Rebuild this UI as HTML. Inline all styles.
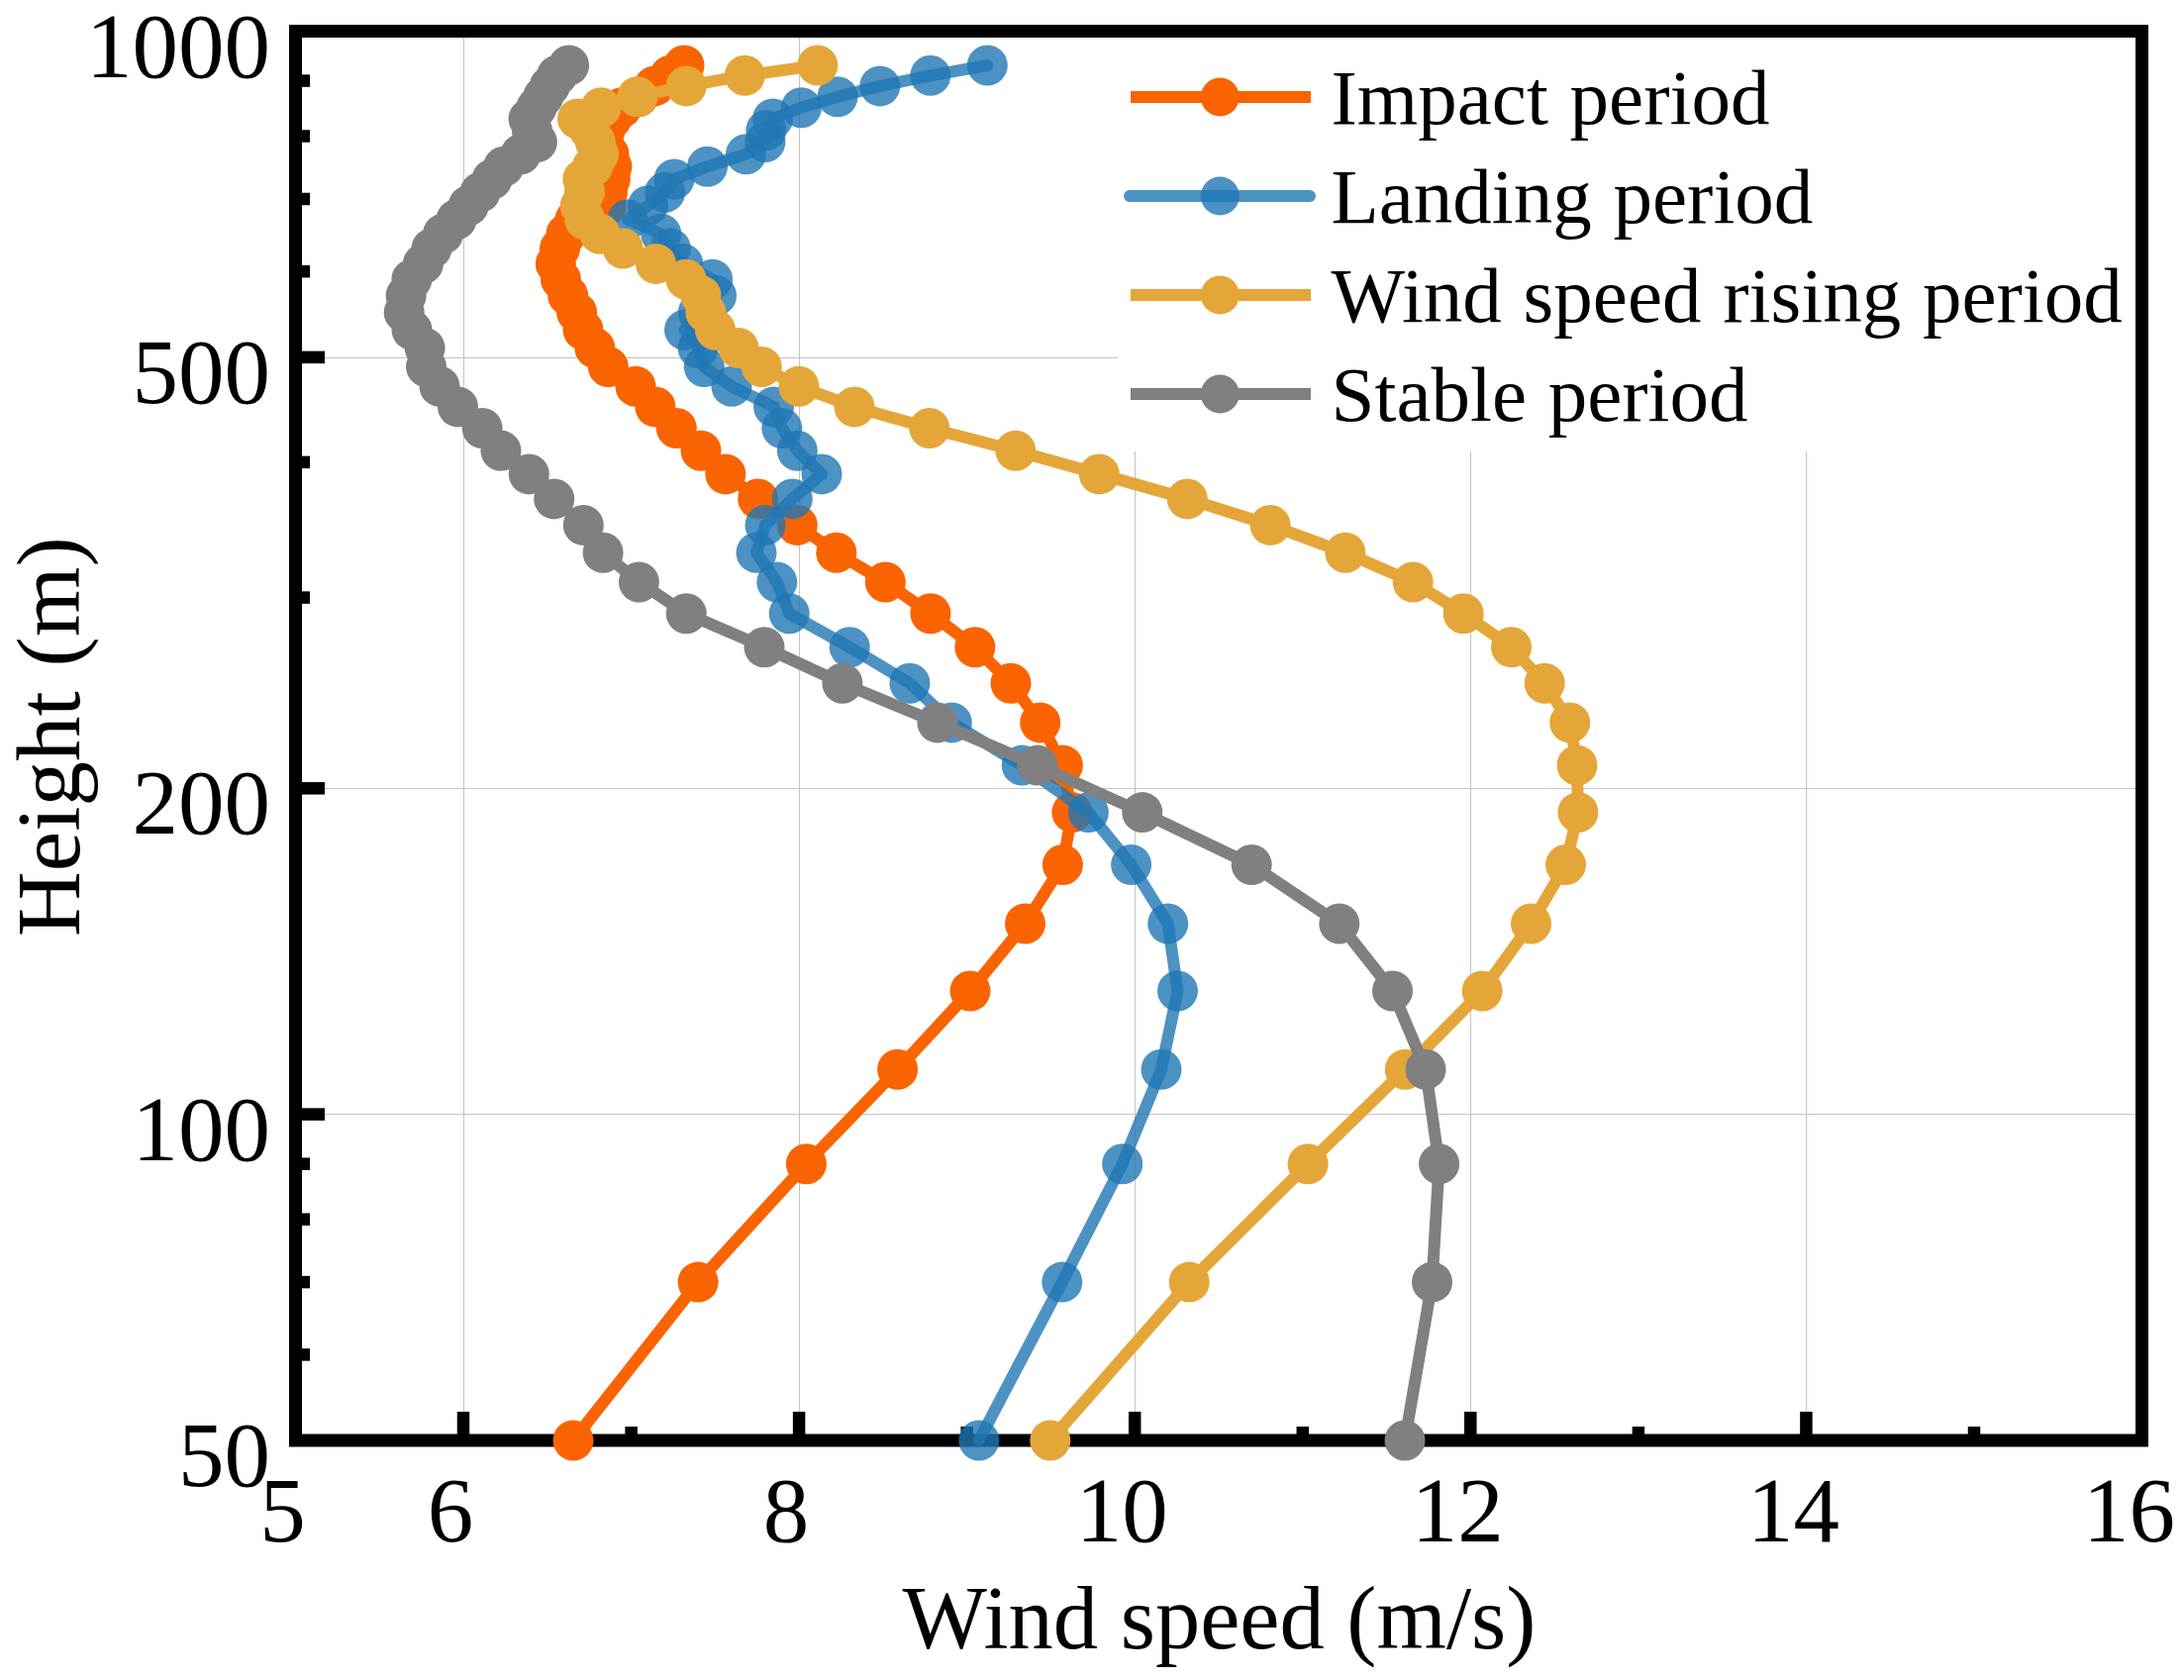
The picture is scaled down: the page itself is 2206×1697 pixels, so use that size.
<!DOCTYPE html>
<html lang="en"><head><meta charset="utf-8"><title>Wind speed profiles</title>
<style>html,body{margin:0;padding:0;background:#fff}body{width:2206px;height:1697px;overflow:hidden}svg{display:block}text{font-family:"Liberation Serif", "Times New Roman", serif;fill:#000}</style>
</head><body>
<svg width="2206" height="1697" viewBox="0 0 2206 1697">
<rect width="2206" height="1697" fill="#fff"/>
<g stroke="#c4c4c4" stroke-width="1" fill="none" shape-rendering="crispEdges">
<line x1="468.5" y1="31.5" x2="468.5" y2="1455.0"/>
<line x1="807.5" y1="31.5" x2="807.5" y2="1455.0"/>
<line x1="1146.5" y1="31.5" x2="1146.5" y2="1455.0"/>
<line x1="1485.5" y1="31.5" x2="1485.5" y2="1455.0"/>
<line x1="1824.5" y1="31.5" x2="1824.5" y2="1455.0"/>
<line x1="298.5" y1="361.5" x2="2163.5" y2="361.5"/>
<line x1="298.5" y1="796.5" x2="2163.5" y2="796.5"/>
<line x1="298.5" y1="1125.5" x2="2163.5" y2="1125.5"/>
</g>
<rect x="1129" y="38" width="1029" height="418" fill="#fff"/>
<g stroke="#000" stroke-width="12.5" fill="none">
<line x1="468.0" y1="1455.0" x2="468.0" y2="1426.0"/>
<line x1="807.1" y1="1455.0" x2="807.1" y2="1426.0"/>
<line x1="1146.2" y1="1455.0" x2="1146.2" y2="1426.0"/>
<line x1="1485.3" y1="1455.0" x2="1485.3" y2="1426.0"/>
<line x1="1824.4" y1="1455.0" x2="1824.4" y2="1426.0"/>
<line x1="637.6" y1="1455.0" x2="637.6" y2="1441.0"/>
<line x1="976.7" y1="1455.0" x2="976.7" y2="1441.0"/>
<line x1="1315.8" y1="1455.0" x2="1315.8" y2="1441.0"/>
<line x1="1654.9" y1="1455.0" x2="1654.9" y2="1441.0"/>
<line x1="1994.0" y1="1455.0" x2="1994.0" y2="1441.0"/>
<line x1="298.5" y1="360.9" x2="328.0" y2="360.9"/>
<line x1="298.5" y1="796.3" x2="328.0" y2="796.3"/>
<line x1="298.5" y1="1125.6" x2="328.0" y2="1125.6"/>
<line x1="298.5" y1="1368.4" x2="313.0" y2="1368.4"/>
<line x1="298.5" y1="1295.1" x2="313.0" y2="1295.1"/>
<line x1="298.5" y1="1231.7" x2="313.0" y2="1231.7"/>
<line x1="298.5" y1="1175.7" x2="313.0" y2="1175.7"/>
<line x1="298.5" y1="603.6" x2="313.0" y2="603.6"/>
<line x1="298.5" y1="466.9" x2="313.0" y2="466.9"/>
<line x1="298.5" y1="274.2" x2="313.0" y2="274.2"/>
<line x1="298.5" y1="201.0" x2="313.0" y2="201.0"/>
<line x1="298.5" y1="137.5" x2="313.0" y2="137.5"/>
<line x1="298.5" y1="81.6" x2="313.0" y2="81.6"/>
</g>
<rect x="298.5" y="31.5" width="1865.0" height="1423.5" fill="none" stroke="#000" stroke-width="13"/>
<g fill="#FA6400" stroke="none" opacity="1">
<polyline points="579.0,1455.0 705.1,1295.1 814.4,1175.7 906.6,1080.3 980.0,1001.0 1035.5,933.0 1073.4,873.5 1082.9,820.6 1073.4,773.1 1050.7,729.9 1021.0,690.2 984.8,653.7 939.9,619.7 894.3,588.0 844.8,558.3 805.3,530.4 765.7,503.9 732.8,478.9 708.0,455.2 683.3,432.5 661.9,410.9 642.0,390.3 614.3,370.5 600.8,351.5 589.0,333.2 582.6,315.6 573.7,298.6 566.4,282.2 561.3,266.4 565.5,251.0 572.0,236.2 581.0,221.8 612.0,207.8 613.5,194.2 616.3,181.0 617.9,168.2 615.0,155.7 609.6,143.5 611.0,131.6 617.7,120.0 628.0,108.7 644.6,97.7 661.0,86.9 676.9,76.3 691.0,66.0" fill="none" stroke="#FA6400" stroke-opacity="1" stroke-width="12" stroke-linejoin="round" stroke-linecap="butt"/>
<g fill-opacity="1">
<circle cx="579.0" cy="1455.0" r="20.5"/>
<circle cx="705.1" cy="1295.1" r="20.5"/>
<circle cx="814.4" cy="1175.7" r="20.5"/>
<circle cx="906.6" cy="1080.3" r="20.5"/>
<circle cx="980.0" cy="1001.0" r="20.5"/>
<circle cx="1035.5" cy="933.0" r="20.5"/>
<circle cx="1073.4" cy="873.5" r="20.5"/>
<circle cx="1082.9" cy="820.6" r="20.5"/>
<circle cx="1073.4" cy="773.1" r="20.5"/>
<circle cx="1050.7" cy="729.9" r="20.5"/>
<circle cx="1021.0" cy="690.2" r="20.5"/>
<circle cx="984.8" cy="653.7" r="20.5"/>
<circle cx="939.9" cy="619.7" r="20.5"/>
<circle cx="894.3" cy="588.0" r="20.5"/>
<circle cx="844.8" cy="558.3" r="20.5"/>
<circle cx="805.3" cy="530.4" r="20.5"/>
<circle cx="765.7" cy="503.9" r="20.5"/>
<circle cx="732.8" cy="478.9" r="20.5"/>
<circle cx="708.0" cy="455.2" r="20.5"/>
<circle cx="683.3" cy="432.5" r="20.5"/>
<circle cx="661.9" cy="410.9" r="20.5"/>
<circle cx="642.0" cy="390.3" r="20.5"/>
<circle cx="614.3" cy="370.5" r="20.5"/>
<circle cx="600.8" cy="351.5" r="20.5"/>
<circle cx="589.0" cy="333.2" r="20.5"/>
<circle cx="582.6" cy="315.6" r="20.5"/>
<circle cx="573.7" cy="298.6" r="20.5"/>
<circle cx="566.4" cy="282.2" r="20.5"/>
<circle cx="561.3" cy="266.4" r="20.5"/>
<circle cx="565.5" cy="251.0" r="20.5"/>
<circle cx="572.0" cy="236.2" r="20.5"/>
<circle cx="581.0" cy="221.8" r="20.5"/>
<circle cx="612.0" cy="207.8" r="20.5"/>
<circle cx="613.5" cy="194.2" r="20.5"/>
<circle cx="616.3" cy="181.0" r="20.5"/>
<circle cx="617.9" cy="168.2" r="20.5"/>
<circle cx="615.0" cy="155.7" r="20.5"/>
<circle cx="609.6" cy="143.5" r="20.5"/>
<circle cx="611.0" cy="131.6" r="20.5"/>
<circle cx="617.7" cy="120.0" r="20.5"/>
<circle cx="628.0" cy="108.7" r="20.5"/>
<circle cx="644.6" cy="97.7" r="20.5"/>
<circle cx="661.0" cy="86.9" r="20.5"/>
<circle cx="676.9" cy="76.3" r="20.5"/>
<circle cx="691.0" cy="66.0" r="20.5"/>
</g></g>
<g fill="#1f77b4" stroke="none" opacity="1">
<polyline points="988.8,1455.0 1072.8,1295.1 1133.7,1175.7 1173.0,1080.3 1189.5,1001.0 1179.7,933.0 1142.6,873.5 1099.4,820.6 1032.2,773.1 961.3,729.9 918.9,690.2 858.2,653.7 797.2,619.7 784.8,588.0 764.0,558.3 773.0,530.4 800.3,503.9 830.0,478.9 805.3,455.2 789.8,432.5 781.5,410.9 739.0,390.3 711.2,370.5 705.0,351.5 691.5,333.2 705.4,315.6 723.5,298.6 719.6,282.2 689.8,266.4 677.3,251.0 667.7,236.2 634.0,221.8 654.5,207.8 671.7,194.2 681.0,181.0 714.5,168.2 753.5,155.7 772.9,143.5 773.8,131.6 780.6,120.0 809.4,108.7 846.0,97.7 888.8,86.9 939.8,76.3 997.3,66.0" fill="none" stroke="#1f77b4" stroke-opacity="0.8" stroke-width="12" stroke-linejoin="round" stroke-linecap="round"/>
<g fill-opacity="0.8">
<circle cx="988.8" cy="1455.0" r="20.5"/>
<circle cx="1072.8" cy="1295.1" r="20.5"/>
<circle cx="1133.7" cy="1175.7" r="20.5"/>
<circle cx="1173.0" cy="1080.3" r="20.5"/>
<circle cx="1189.5" cy="1001.0" r="20.5"/>
<circle cx="1179.7" cy="933.0" r="20.5"/>
<circle cx="1142.6" cy="873.5" r="20.5"/>
<circle cx="1099.4" cy="820.6" r="20.5"/>
<circle cx="1032.2" cy="773.1" r="20.5"/>
<circle cx="961.3" cy="729.9" r="20.5"/>
<circle cx="918.9" cy="690.2" r="20.5"/>
<circle cx="858.2" cy="653.7" r="20.5"/>
<circle cx="797.2" cy="619.7" r="20.5"/>
<circle cx="784.8" cy="588.0" r="20.5"/>
<circle cx="764.0" cy="558.3" r="20.5"/>
<circle cx="773.0" cy="530.4" r="20.5"/>
<circle cx="800.3" cy="503.9" r="20.5"/>
<circle cx="830.0" cy="478.9" r="20.5"/>
<circle cx="805.3" cy="455.2" r="20.5"/>
<circle cx="789.8" cy="432.5" r="20.5"/>
<circle cx="781.5" cy="410.9" r="20.5"/>
<circle cx="739.0" cy="390.3" r="20.5"/>
<circle cx="711.2" cy="370.5" r="20.5"/>
<circle cx="705.0" cy="351.5" r="20.5"/>
<circle cx="691.5" cy="333.2" r="20.5"/>
<circle cx="705.4" cy="315.6" r="20.5"/>
<circle cx="723.5" cy="298.6" r="20.5"/>
<circle cx="719.6" cy="282.2" r="20.5"/>
<circle cx="689.8" cy="266.4" r="20.5"/>
<circle cx="677.3" cy="251.0" r="20.5"/>
<circle cx="667.7" cy="236.2" r="20.5"/>
<circle cx="634.0" cy="221.8" r="20.5"/>
<circle cx="654.5" cy="207.8" r="20.5"/>
<circle cx="671.7" cy="194.2" r="20.5"/>
<circle cx="681.0" cy="181.0" r="20.5"/>
<circle cx="714.5" cy="168.2" r="20.5"/>
<circle cx="753.5" cy="155.7" r="20.5"/>
<circle cx="772.9" cy="143.5" r="20.5"/>
<circle cx="773.8" cy="131.6" r="20.5"/>
<circle cx="780.6" cy="120.0" r="20.5"/>
<circle cx="809.4" cy="108.7" r="20.5"/>
<circle cx="846.0" cy="97.7" r="20.5"/>
<circle cx="888.8" cy="86.9" r="20.5"/>
<circle cx="939.8" cy="76.3" r="20.5"/>
<circle cx="997.3" cy="66.0" r="20.5"/>
</g></g>
<g fill="#E5A639" stroke="none" opacity="1">
<polyline points="1060.8,1455.0 1201.2,1295.1 1321.1,1175.7 1419.3,1080.3 1497.2,1001.0 1546.5,933.0 1581.5,873.5 1593.9,820.6 1593.0,773.1 1585.7,729.9 1560.2,690.2 1526.5,653.7 1478.2,619.7 1427.2,588.0 1358.9,558.3 1283.1,530.4 1199.3,503.9 1110.3,478.9 1025.8,455.2 938.8,432.5 863.0,410.9 806.9,390.3 769.3,370.5 746.0,351.5 722.5,333.2 712.9,315.6 708.0,298.6 693.0,282.2 662.5,266.4 629.2,251.0 606.0,236.2 590.7,221.8 586.2,207.8 590.4,194.2 588.8,181.0 598.5,168.2 604.6,155.7 601.3,143.5 595.6,131.6 583.5,120.0 607.1,108.7 643.8,97.7 693.2,86.9 752.3,76.3 825.8,66.0" fill="none" stroke="#E5A639" stroke-opacity="1" stroke-width="12" stroke-linejoin="round" stroke-linecap="butt"/>
<g fill-opacity="1">
<circle cx="1060.8" cy="1455.0" r="20.5"/>
<circle cx="1201.2" cy="1295.1" r="20.5"/>
<circle cx="1321.1" cy="1175.7" r="20.5"/>
<circle cx="1419.3" cy="1080.3" r="20.5"/>
<circle cx="1497.2" cy="1001.0" r="20.5"/>
<circle cx="1546.5" cy="933.0" r="20.5"/>
<circle cx="1581.5" cy="873.5" r="20.5"/>
<circle cx="1593.9" cy="820.6" r="20.5"/>
<circle cx="1593.0" cy="773.1" r="20.5"/>
<circle cx="1585.7" cy="729.9" r="20.5"/>
<circle cx="1560.2" cy="690.2" r="20.5"/>
<circle cx="1526.5" cy="653.7" r="20.5"/>
<circle cx="1478.2" cy="619.7" r="20.5"/>
<circle cx="1427.2" cy="588.0" r="20.5"/>
<circle cx="1358.9" cy="558.3" r="20.5"/>
<circle cx="1283.1" cy="530.4" r="20.5"/>
<circle cx="1199.3" cy="503.9" r="20.5"/>
<circle cx="1110.3" cy="478.9" r="20.5"/>
<circle cx="1025.8" cy="455.2" r="20.5"/>
<circle cx="938.8" cy="432.5" r="20.5"/>
<circle cx="863.0" cy="410.9" r="20.5"/>
<circle cx="806.9" cy="390.3" r="20.5"/>
<circle cx="769.3" cy="370.5" r="20.5"/>
<circle cx="746.0" cy="351.5" r="20.5"/>
<circle cx="722.5" cy="333.2" r="20.5"/>
<circle cx="712.9" cy="315.6" r="20.5"/>
<circle cx="708.0" cy="298.6" r="20.5"/>
<circle cx="693.0" cy="282.2" r="20.5"/>
<circle cx="662.5" cy="266.4" r="20.5"/>
<circle cx="629.2" cy="251.0" r="20.5"/>
<circle cx="606.0" cy="236.2" r="20.5"/>
<circle cx="590.7" cy="221.8" r="20.5"/>
<circle cx="586.2" cy="207.8" r="20.5"/>
<circle cx="590.4" cy="194.2" r="20.5"/>
<circle cx="588.8" cy="181.0" r="20.5"/>
<circle cx="598.5" cy="168.2" r="20.5"/>
<circle cx="604.6" cy="155.7" r="20.5"/>
<circle cx="601.3" cy="143.5" r="20.5"/>
<circle cx="595.6" cy="131.6" r="20.5"/>
<circle cx="583.5" cy="120.0" r="20.5"/>
<circle cx="607.1" cy="108.7" r="20.5"/>
<circle cx="643.8" cy="97.7" r="20.5"/>
<circle cx="693.2" cy="86.9" r="20.5"/>
<circle cx="752.3" cy="76.3" r="20.5"/>
<circle cx="825.8" cy="66.0" r="20.5"/>
</g></g>
<g fill="#808080" stroke="none" opacity="1">
<polyline points="1419.0,1455.0 1446.5,1295.1 1453.6,1175.7 1440.0,1080.3 1406.5,1001.0 1352.8,933.0 1264.2,873.5 1153.8,820.6 1047.9,773.1 946.9,729.9 850.9,690.2 772.0,653.7 693.2,619.7 645.4,588.0 609.1,558.3 589.3,530.4 559.7,503.9 534.3,478.9 505.9,455.2 487.1,432.5 462.5,410.9 444.0,390.3 430.5,370.5 429.1,351.5 416.0,333.2 408.2,315.6 410.1,298.6 415.9,282.2 427.4,266.4 436.0,251.0 447.6,236.2 461.0,221.8 473.2,207.8 485.1,194.2 497.1,181.0 508.8,168.2 526.0,155.7 542.4,143.5 537.4,131.6 534.0,120.0 541.9,108.7 548.7,97.7 555.3,86.9 562.6,76.3 574.6,66.0" fill="none" stroke="#808080" stroke-opacity="1" stroke-width="12" stroke-linejoin="round" stroke-linecap="butt"/>
<g fill-opacity="1">
<circle cx="1419.0" cy="1455.0" r="20.5"/>
<circle cx="1446.5" cy="1295.1" r="20.5"/>
<circle cx="1453.6" cy="1175.7" r="20.5"/>
<circle cx="1440.0" cy="1080.3" r="20.5"/>
<circle cx="1406.5" cy="1001.0" r="20.5"/>
<circle cx="1352.8" cy="933.0" r="20.5"/>
<circle cx="1264.2" cy="873.5" r="20.5"/>
<circle cx="1153.8" cy="820.6" r="20.5"/>
<circle cx="1047.9" cy="773.1" r="20.5"/>
<circle cx="946.9" cy="729.9" r="20.5"/>
<circle cx="850.9" cy="690.2" r="20.5"/>
<circle cx="772.0" cy="653.7" r="20.5"/>
<circle cx="693.2" cy="619.7" r="20.5"/>
<circle cx="645.4" cy="588.0" r="20.5"/>
<circle cx="609.1" cy="558.3" r="20.5"/>
<circle cx="589.3" cy="530.4" r="20.5"/>
<circle cx="559.7" cy="503.9" r="20.5"/>
<circle cx="534.3" cy="478.9" r="20.5"/>
<circle cx="505.9" cy="455.2" r="20.5"/>
<circle cx="487.1" cy="432.5" r="20.5"/>
<circle cx="462.5" cy="410.9" r="20.5"/>
<circle cx="444.0" cy="390.3" r="20.5"/>
<circle cx="430.5" cy="370.5" r="20.5"/>
<circle cx="429.1" cy="351.5" r="20.5"/>
<circle cx="416.0" cy="333.2" r="20.5"/>
<circle cx="408.2" cy="315.6" r="20.5"/>
<circle cx="410.1" cy="298.6" r="20.5"/>
<circle cx="415.9" cy="282.2" r="20.5"/>
<circle cx="427.4" cy="266.4" r="20.5"/>
<circle cx="436.0" cy="251.0" r="20.5"/>
<circle cx="447.6" cy="236.2" r="20.5"/>
<circle cx="461.0" cy="221.8" r="20.5"/>
<circle cx="473.2" cy="207.8" r="20.5"/>
<circle cx="485.1" cy="194.2" r="20.5"/>
<circle cx="497.1" cy="181.0" r="20.5"/>
<circle cx="508.8" cy="168.2" r="20.5"/>
<circle cx="526.0" cy="155.7" r="20.5"/>
<circle cx="542.4" cy="143.5" r="20.5"/>
<circle cx="537.4" cy="131.6" r="20.5"/>
<circle cx="534.0" cy="120.0" r="20.5"/>
<circle cx="541.9" cy="108.7" r="20.5"/>
<circle cx="548.7" cy="97.7" r="20.5"/>
<circle cx="555.3" cy="86.9" r="20.5"/>
<circle cx="562.6" cy="76.3" r="20.5"/>
<circle cx="574.6" cy="66.0" r="20.5"/>
</g></g>
<line x1="1142.0" y1="98.0" x2="1324.0" y2="98.0" stroke="#FA6400" stroke-opacity="1" stroke-width="12" stroke-linecap="butt"/>
<circle cx="1232.3" cy="98.0" r="19.5" fill="#FA6400" fill-opacity="1"/>
<text x="1344.5" y="125.3" font-size="79" word-spacing="2">Impact period</text>
<line x1="1141.0" y1="198.0" x2="1323.0" y2="198.0" stroke="#1f77b4" stroke-opacity="0.8" stroke-width="12" stroke-linecap="round"/>
<circle cx="1232.3" cy="198.0" r="19.5" fill="#1f77b4" fill-opacity="0.8"/>
<text x="1344.5" y="225.3" font-size="79" word-spacing="2">Landing period</text>
<line x1="1142.0" y1="298.0" x2="1324.0" y2="298.0" stroke="#E5A639" stroke-opacity="1" stroke-width="12" stroke-linecap="butt"/>
<circle cx="1232.3" cy="298.0" r="19.5" fill="#E5A639" fill-opacity="1"/>
<text x="1344.5" y="325.3" font-size="79" word-spacing="2">Wind speed rising period</text>
<line x1="1142.0" y1="398.0" x2="1324.0" y2="398.0" stroke="#808080" stroke-opacity="1" stroke-width="12" stroke-linecap="butt"/>
<circle cx="1232.3" cy="398.0" r="19.5" fill="#808080" fill-opacity="1"/>
<text x="1344.5" y="425.3" font-size="79" word-spacing="2">Stable period</text>
<text x="285.5" y="1556.5" font-size="93" text-anchor="middle">5</text>
<text x="455.0" y="1556.5" font-size="93" text-anchor="middle">6</text>
<text x="794.1" y="1556.5" font-size="93" text-anchor="middle">8</text>
<text x="1133.2" y="1556.5" font-size="93" text-anchor="middle">10</text>
<text x="1472.3" y="1556.5" font-size="93" text-anchor="middle">12</text>
<text x="1811.4" y="1556.5" font-size="93" text-anchor="middle">14</text>
<text x="2150.5" y="1556.5" font-size="93" text-anchor="middle">16</text>
<text x="273" y="77.5" font-size="93" text-anchor="end">1000</text>
<text x="273" y="406.9" font-size="93" text-anchor="end">500</text>
<text x="273" y="842.3" font-size="93" text-anchor="end">200</text>
<text x="273" y="1171.6" font-size="93" text-anchor="end">100</text>
<text x="273" y="1501.0" font-size="93" text-anchor="end">50</text>
<text x="1231.5" y="1665" font-size="90.5" text-anchor="middle">Wind speed (m/s)</text>
<text transform="translate(80,744) rotate(-90)" font-size="91" text-anchor="middle" word-spacing="2">Height (m)</text>
</svg></body></html>
